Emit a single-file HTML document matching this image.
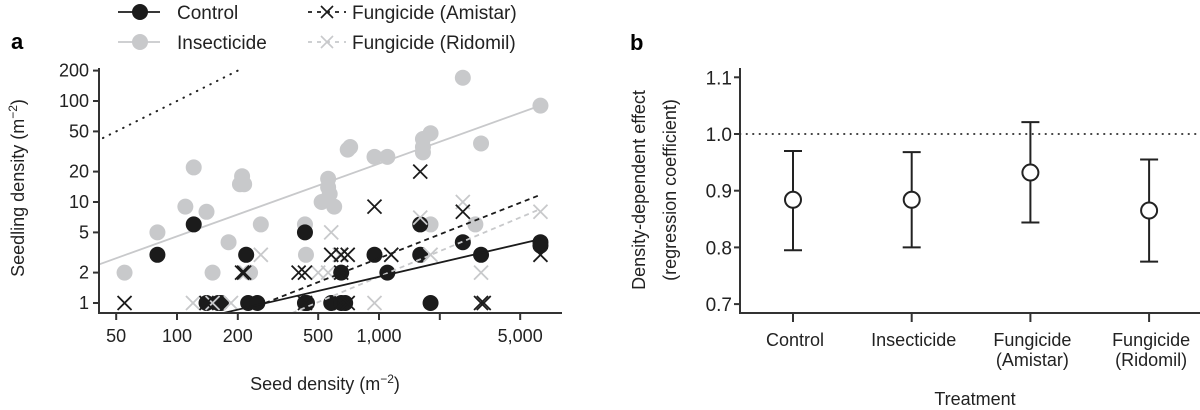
<!DOCTYPE html>
<html><head><meta charset="utf-8"><style>
body{margin:0;background:#fff;}
svg{display:block;font-family:"Liberation Sans",Arial,sans-serif;}
</style></head><body>
<svg id="chart" width="1200" height="410" viewBox="0 0 1200 410" xmlns="http://www.w3.org/2000/svg">
<g id="pa"></g>
<g id="pb"></g>
</svg>
<script>
// ---- Panel a data ----
const insectX=[55,80,110,121,140,150,180,210,215,205,220,230,260,430,435,520,560,570,600,560,700,720,950,1100,1650,1650,1800,1650,1800,2600,3000,3200,6300];
const insectY=[2,5,9,22,8,2,4,18,15,15,3,2,6,6,3,10,17,12,9,14,33,35,28,28,42,35,48,31,6,170,6,38,90];
const controlX=[80,121,220,140,160,165,225,250,430,430,440,650,580,650,680,950,1100,1600,1600,1800,2600,3200,6300,6300];
const controlY=[3,6,3,1,1,1,1,1,5,1,1,2,1,1,1,3,2,6,3,1,4,3,4,3.7];
const amistarX=[55,210,215,140,400,430,430,580,650,700,650,700,950,1150,1600,2600,3200,3300,6300,650];
const amistarY=[1,2,2,1,2,2,1,3,3,3,1,1,9,3,20,8,1,1,3,2];
const ridomilX=[120,150,185,220,260,500,580,640,560,950,1600,2600,3200,6300,1800];
const ridomilY=[1,1,1,2,3,2,5,3,2,1,7,10,2,8,3];
const yTicksA=[1,2,5,10,20,50,100,200];
const xTicksA=[50,100,200,500,1000,2000,5000];
const xTickLabelsA=["50","100","200","500","1,000","","5,000"];
// regression lines: [fromX,toX,intercept(log10),slope]
const lineInsect=[41,6300,-0.78,0.72];
const lineControl=[169,6300,-1.138,0.466];
const lineAmistar=[273,6300,-1.915,0.786];
const lineRidomil=[370,6300,-2.253,0.838];
// ---- Panel b data ----
const cats=["Control","Insecticide","Fungicide\n(Amistar)","Fungicide\n(Ridomil)"];
const means=[0.884,0.884,0.932,0.865];
const upper=[0.970,0.968,1.021,0.955];
const lower=[0.795,0.800,0.844,0.775];
const yTicksB=[0.7,0.8,0.9,1.0,1.1];

const NS="http://www.w3.org/2000/svg";
function mk(parent,tag,attrs,text){const e=document.createElementNS(NS,tag);for(const k in attrs)e.setAttribute(k,attrs[k]);if(text!==undefined)e.textContent=text;parent.appendChild(e);return e;}
const pa=document.getElementById('pa'),pb=document.getElementById('pb');
const sx=v=>177+202*(Math.log10(v)-2);
const sy=v=>303-101*Math.log10(v);
const L=99,R=562,T=68,B=313;
let e;
e=mk(pa,'text',{x:11,y:49,'font-size':22,'font-weight':'bold'},'a');


const defs=mk(document.getElementById('chart'),'defs',{});
const cp=mk(defs,'clipPath',{id:'clipA'});mk(cp,'rect',{x:L,y:T-5,width:R-L,height:B-T+5});
e=mk(pa,'line',{x1:sx(43),y1:sy(43),x2:sx(200),y2:sy(200),stroke:'#222','stroke-width':2,'stroke-dasharray':'0.5 7','stroke-linecap':'round'});


const plot=mk(pa,'g',{'clip-path':'url(#clipA)'});
function reg(arr,color,dash,name){const y1=Math.pow(10,arr[2]+arr[3]*Math.log10(arr[0])),y2=Math.pow(10,arr[2]+arr[3]*Math.log10(arr[1]));
 const l=mk(plot,'line',{x1:sx(arr[0]),y1:sy(y1),x2:sx(arr[1]),y2:sy(y2),stroke:color,'stroke-width':1.8,'stroke-dasharray':dash});
 
 }
function circles(xs,ys,color,name){xs.forEach((x,i)=>{const c=mk(plot,'circle',{cx:sx(x),cy:sy(ys[i]),r:8,fill:color});
 
 });}
function crosses(xs,ys,color,name){xs.forEach((x,i)=>{const cx=sx(x),cy=sy(ys[i]),s=7;const g=mk(plot,'path',{d:`M${cx-s},${cy-s}L${cx+s},${cy+s}M${cx+s},${cy-s}L${cx-s},${cy+s}`,stroke:color,'stroke-width':1.8,fill:'none'});
 
 });}
circles(insectX,insectY,'#c8c9cb','insecticide-point');
reg(lineInsect,'#c8c9cb','','insecticide-fit-line');
circles(controlX,controlY,'#1b1b1b','control-point');
crosses(ridomilX,ridomilY,'#c8c9cb','ridomil-point');
crosses(amistarX,amistarY,'#1b1b1b','amistar-point');
reg(lineRidomil,'#c8c9cb','5 4','ridomil-fit-line');
reg(lineAmistar,'#1b1b1b','5 4','amistar-fit-line');
reg(lineControl,'#1b1b1b','','control-fit-line');
e=mk(pa,'path',{d:`M${L},${T}V${B}H${R}`,stroke:'#333','stroke-width':2,fill:'none'});


yTicksA.forEach(v=>{mk(pa,'line',{x1:L-6,x2:L,y1:sy(v),y2:sy(v),stroke:'#333','stroke-width':2});
 const t=mk(pa,'text',{x:L-10,y:sy(v)+6,'font-size':18,'text-anchor':'end',fill:'#222'},String(v));
 
 });
xTicksA.forEach((v,i)=>{mk(pa,'line',{x1:sx(v),x2:sx(v),y1:B,y2:B+7,stroke:'#333','stroke-width':2});
 const t=mk(pa,'text',{x:sx(v),y:B+29,'font-size':18,'text-anchor':'middle',fill:'#222'},xTickLabelsA[i]);
 
 });
e=mk(pa,'text',{x:325,y:390,'font-size':18,'text-anchor':'middle',fill:'#222'});
e.innerHTML='Seed density (m<tspan dy="-7" font-size="12">−2</tspan><tspan dy="7">)</tspan>';


e=mk(pa,'text',{x:0,y:0,'font-size':18,'text-anchor':'middle',fill:'#222',transform:'translate(24,188) rotate(-90)'});
e.innerHTML='Seedling density (m<tspan dy="-7" font-size="12">−2</tspan><tspan dy="7">)</tspan>';


function legend(y,x0,x1,mx,tx,color,dash,marker,label,name){const g=mk(pa,'g',{});
 
 
 mk(g,'line',{x1:x0,x2:x1,y1:y,y2:y,stroke:color,'stroke-width':1.8,'stroke-dasharray':dash});
 if(marker==='c')mk(g,'circle',{cx:mx,cy:y,r:8,fill:color});
 else mk(g,'path',{d:`M${mx-6},${y-6}L${mx+6},${y+6}M${mx+6},${y-6}L${mx-6},${y+6}`,stroke:color,'stroke-width':1.6,fill:'#fff'});
 mk(g,'text',{x:tx,y:y+7,'font-size':19,fill:'#222'},label);}
legend(12,118,160,140,177,'#1b1b1b','','c','Control','legend-control');
legend(42,118,160,140,177,'#c8c9cb','','c','Insecticide','legend-insecticide');
legend(12,308,346,327,352,'#1b1b1b','4 5','x','Fungicide (Amistar)','legend-amistar');
legend(42,308,346,327,352,'#c8c9cb','4 5','x','Fungicide (Ridomil)','legend-ridomil');

// ---- Panel b ----
const bL=740,bT=68,bB=313;
const by=v=>134-(v-1.0)*567;
const bx=i=>793+i*118.7;
e=mk(pb,'text',{x:630,y:50,'font-size':22,'font-weight':'bold'},'b');


e=mk(pb,'line',{x1:bL,x2:1200,y1:by(1.0),y2:by(1.0),stroke:'#222','stroke-width':1.8,'stroke-dasharray':'0.5 6','stroke-linecap':'round'});


e=mk(pb,'path',{d:`M${bL},${bT}V${bB}H1200`,stroke:'#333','stroke-width':2,fill:'none'});


yTicksB.forEach(v=>{mk(pb,'line',{x1:bL-6,x2:bL,y1:by(v),y2:by(v),stroke:'#333','stroke-width':2});
 const t=mk(pb,'text',{x:bL-8,y:by(v)+7,'font-size':19,'text-anchor':'end',fill:'#222'},v.toFixed(1));
 
 });
cats.forEach((c,i)=>{const x=bx(i);
 mk(pb,'line',{x1:x,x2:x,y1:bB,y2:bB+9,stroke:'#333','stroke-width':2});
 const t=mk(pb,'text',{x:x+2,y:346,'font-size':18,'text-anchor':'middle',fill:'#222'});
 
 
 c.split('\n').forEach((s,j)=>mk(t,'tspan',{x:x+2,dy:j?20:0},s));
 const g=mk(pb,'g',{});
 
 
 mk(g,'path',{d:`M${x},${by(upper[i])}V${by(lower[i])}M${x-9},${by(upper[i])}H${x+9}M${x-9},${by(lower[i])}H${x+9}`,stroke:'#222','stroke-width':2,fill:'none'});
 const p=mk(pb,'circle',{cx:x,cy:by(means[i]),r:8,fill:'#fff',stroke:'#222','stroke-width':2});
 
 });
e=mk(pb,'text',{x:975,y:405,'font-size':18,'text-anchor':'middle',fill:'#222'},'Treatment');


e=mk(pb,'text',{x:0,y:0,'font-size':18,'text-anchor':'middle',fill:'#222',transform:'translate(645,190) rotate(-90)'},'Density-dependent effect');


e=mk(pb,'text',{x:0,y:0,'font-size':18,'text-anchor':'middle',fill:'#222',transform:'translate(676,190) rotate(-90)'},'(regression coefficient)');


</script>
</body></html>
